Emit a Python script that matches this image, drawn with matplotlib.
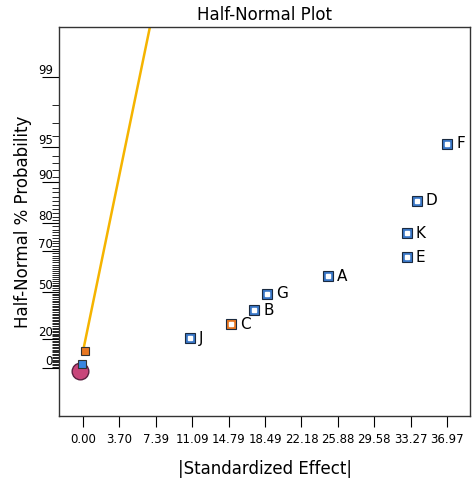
import numpy as np
import matplotlib
matplotlib.use("Agg")
import matplotlib.pyplot as plt
from statistics import NormalDist

nd = NormalDist()

def hn(p):
    # half-normal quantile of a percent probability
    p = np.clip(np.asarray(p, dtype=float) / 100.0, 0, 0.99999)
    return np.array([nd.inv_cdf(0.5 + v / 2) for v in np.atleast_1d(p)])

# labelled effects
labels = ["J", "C", "B", "G", "A", "E", "K", "D", "F"]
effects = [10.85, 15.05, 17.4, 18.7, 24.9, 32.9, 32.9, 33.9, 37.0]
probs = [20.9, 30.3, 39.2, 48.8, 58.4, 67.4, 76.8, 86.1, 95.3]
orange_lab = ["C"]

# unlabelled points near origin
small_x = [0.2, -0.1]
small_p = [11.9, 2.8]
small_col = ["#e87722", "#3a86e0"]
circle_x, circle_q = -0.3, -0.027

line_x = [0.0, 6.8]
line_p = [11.9, 99.75]

xticks = [0.00, 3.70, 7.39, 11.09, 14.79, 18.49, 22.18, 25.88, 29.58, 33.27, 36.97]
ymaj = [0, 20, 50, 70, 80, 90, 95, 99]
ymin = list(range(1, 95)) + [96, 97, 98]

fig = plt.figure(figsize=(4.74, 4.87), dpi=100)
ax = fig.add_axes([0.1245, 0.1458, 0.8671, 0.7988])

ax.plot(line_x, hn(line_p), color="#f5b400", lw=1.8, zorder=2)
ax.plot(circle_x, circle_q, "o", ms=12, mfc="#c8457a", mec="#5a2040", zorder=3)
for x, p, c in zip(small_x, small_p, small_col):
    ax.plot(x, hn(p)[0], "s", ms=6, mfc=c, mec="#333333", mew=0.8, zorder=4)

q = hn(probs)
for lab, x, y in zip(labels, effects, q):
    c = "#e87722" if lab in orange_lab else "#3a78c8"
    ax.plot(x, y, "s", ms=7.5, mfc=c, mec="#1a2a40", mew=0.8, zorder=4)
    ax.plot(x, y, "s", ms=3, mfc="white", mec="white", zorder=5)
    ax.text(x + 0.9, y, lab, fontsize=11, va="center", ha="left")

ax.set_xlim(-2.44, 39.3)
ax.set_ylim(-0.425, 3.02)
ax.set_xticks(xticks)
ax.set_xticklabels([f"{v:.2f}" for v in xticks], fontsize=8.5)
ax.set_yticks(hn(ymaj))
ax.set_yticklabels([str(v) for v in ymaj], fontsize=8.5, va="bottom")
ax.set_yticks(hn(ymin), minor=True)
ax.tick_params(axis="y", which="major", length=12, direction="out", pad=-9)
ax.tick_params(axis="y", which="minor", length=5, direction="out")
ax.tick_params(axis="x", length=8, direction="out", pad=4)
for t in ax.get_yticklabels():
    t.set_x(-0.005)
for s in ax.spines.values():
    s.set_color("#333333")
    s.set_linewidth(1.0)

ax.set_title("Half-Normal Plot", fontsize=12, pad=5)
ax.set_xlabel("|Standardized Effect|", fontsize=12, labelpad=10)
ax.set_ylabel("Half-Normal % Probability", fontsize=12, labelpad=4)

fig.savefig("out.png", dpi=100)
